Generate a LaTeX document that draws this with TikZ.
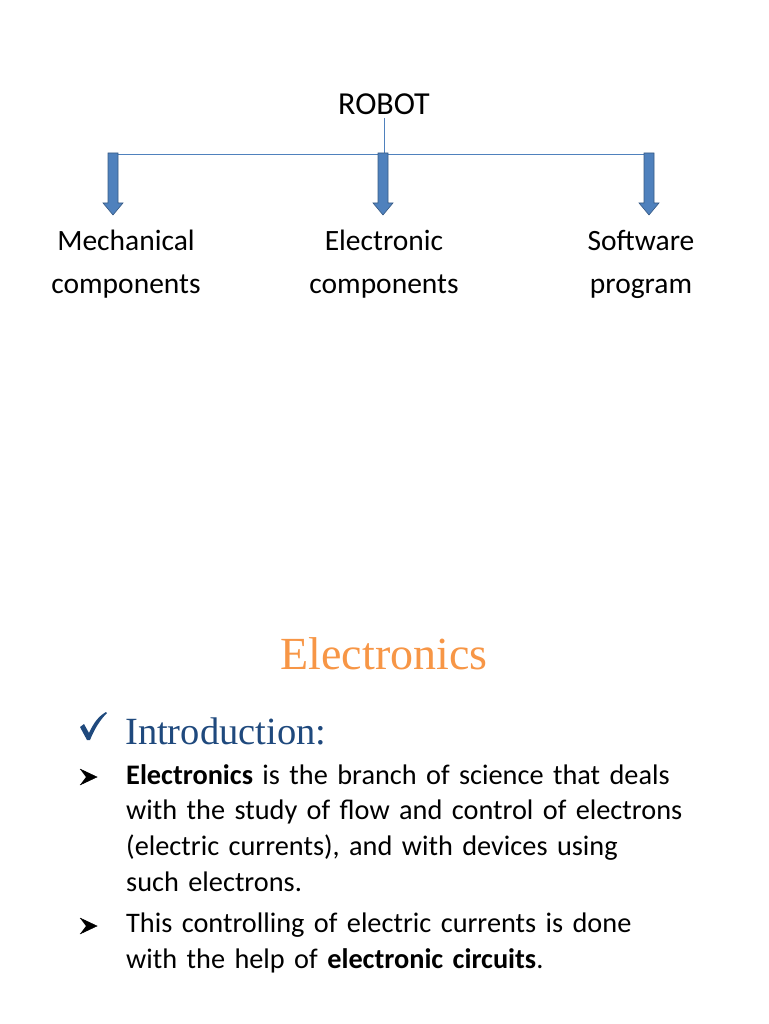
\documentclass[tikz,border=0pt]{standalone}
\usepackage{fontspec}
\setmainfont{Carlito}
\newfontfamily\serifx{Liberation Serif}
\definecolor{arrowblue}{HTML}{4F81BD}
\definecolor{titleorange}{HTML}{F79646}
\definecolor{introblue}{HTML}{1F497D}
\begin{document}
\begin{tikzpicture}[x=1pt,y=-1pt,
  lbl/.style={font=\fontsize{29.5}{43}\selectfont, align=center, inner sep=0},
  body/.style={font=\fontsize{28.3}{35.7}\selectfont, align=left, anchor=north west, inner sep=0, text width=640},
  fatarrow/.style={fill=arrowblue, draw=arrowblue!70!black, line width=0.6pt}]
\useasboundingbox (0,0) rectangle (768,1024);
\node[font=\fontsize{32}{38}\selectfont, inner sep=0] (robot) at (384,104) {ROBOT};
\coordinate (top) at (384,118);
\coordinate (mid) at (384,154);
\coordinate (l) at (113,154);
\coordinate (r) at (649,154);
\draw[arrowblue, line width=0.8pt] (top) -- (mid);
\draw[arrowblue, line width=0.8pt] (l) -- (r);
\foreach \x in {113,383,649}{
  \draw[fatarrow] (\x-5,153) -- (\x+5,153) -- (\x+5,203) -- (\x+10,203) -- (\x,215) -- (\x-10,203) -- (\x-5,203) -- cycle;
}
\node[lbl] (mech) at (126,264) {Mechanical\\components};
\node[lbl] (elec) at (384,264) {Electronic\\components};
\node[lbl] (soft) at (641,264) {Software\\program};
\node[font=\serifx\fontsize{46}{52}\selectfont, text=titleorange] (title) at (384,654) {Electronics};
\fill[introblue] (80,727) -- (84,724) -- (89,733) .. controls (94,722) and (99,716) .. (106,712) -- (107,713) .. controls (100,720) and (95,728) .. (90,740) -- (87,740) -- cycle;
\node[anchor=west, text=introblue, font=\serifx\fontsize{38.5}{44}\selectfont, inner sep=0] (intro) at (125,731) {Introduction:};
\foreach \y in {777,926}{
  \fill[black] (80,\y-8) -- (97,\y) -- (80,\y+8) -- (86,\y) -- cycle;
  \draw[black, line width=0.5pt] (80,\y-8) -- (97,\y) -- (80,\y+8);
}
\node[body] (t1) at (126,764) {\textbf{Electronics} is the branch of science that deals\\with the study of flow and control of electrons\\(electric currents), and with devices using\\such electrons.};
\node[body] (t2) at (126,913) {This controlling of electric currents is done\\with the help of \textbf{electronic circuits}.};
\end{tikzpicture}
\end{document}
